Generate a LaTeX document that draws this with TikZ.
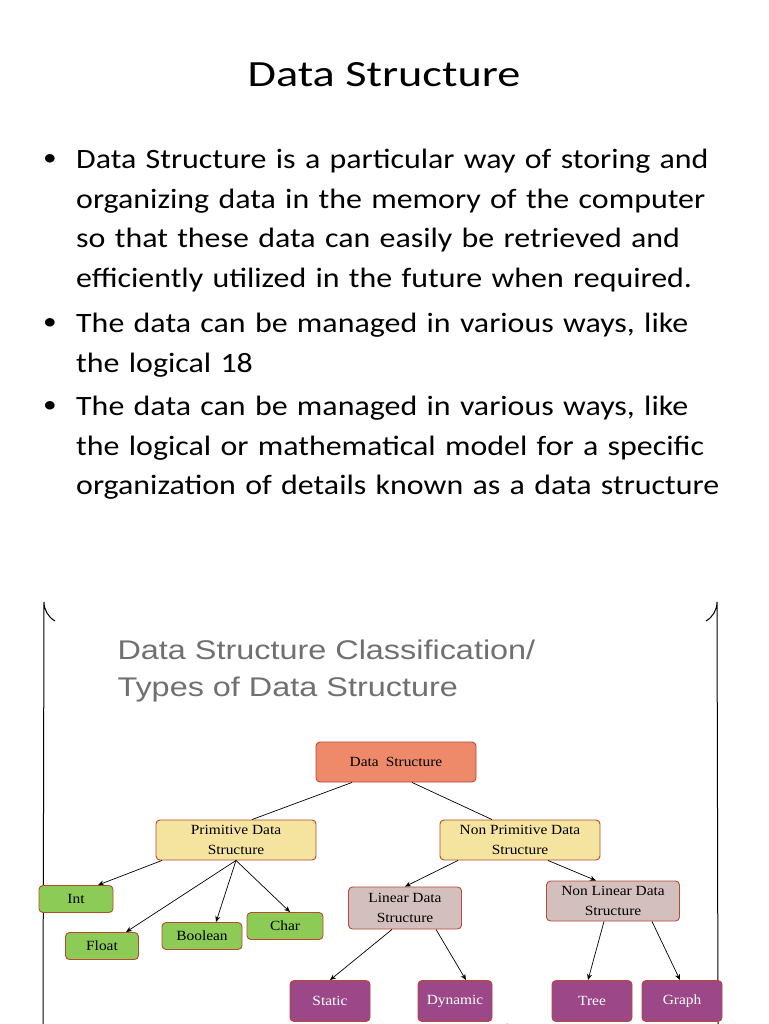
\documentclass[tikz,border=0pt]{standalone}
\usepackage{fontspec}
\setmainfont[FakeStretch=1.14]{Carlito}
\newfontfamily\boxfont[FakeStretch=1.1]{Liberation Serif}
\newfontfamily\grayfont[FakeStretch=1.2]{Liberation Sans}
\usetikzlibrary{arrows.meta}
\definecolor{dsfill}{HTML}{EE8A6A}
\definecolor{dsline}{HTML}{B84A30}
\definecolor{yel}{HTML}{F5E3A0}
\definecolor{grn}{HTML}{8CCB55}
\definecolor{pnk}{HTML}{D4BFBF}
\definecolor{pur}{HTML}{9C4888}
\definecolor{ttl}{HTML}{707070}
\tikzset{
  bx/.style={draw=dsline, line width=0.9pt, rounded corners=4pt, inner sep=0pt, align=center, font=\boxfont\fontsize{14}{20}\selectfont},
  conn/.style={line width=0.7pt},
  arr/.style={conn,-{Stealth[length=6pt,width=5pt]}},
  btext/.style={anchor=north west, align=left, text width=690pt, font=\fontsize{28}{39.5}\selectfont, inner sep=0pt}
}
\begin{document}
\begin{tikzpicture}[x=1pt,y=-1pt]
\useasboundingbox (0,0) rectangle (768,1024);
\fill[white] (0,0) rectangle (768,1024);
\node[font=\fontsize{37}{40}\selectfont\addfontfeature{FakeStretch=1.25}] (title) at (384,75) {Data Structure};
\foreach \y in {160,324,407} \node[font=\fontsize{24}{30}\selectfont] at (50,\y) {\textbullet};
\node[btext] (b1) at (76,149) {Data Structure is a particular way of storing and\\organizing data in the memory of the computer\\so that these data can easily be retrieved and\\efficiently utilized in the future when required.};
\node[btext] (b2) at (76,313) {The data can be managed in various ways, like\\the logical 18};
\node[btext] (b3) at (76,396) {The data can be managed in various ways, like\\the logical or mathematical model for a specific\\organization of details known as a data structure};
% frame
\draw[line width=1pt] (55,621) arc[start angle=120,end angle=180,radius=22] -- (43,1024);
\draw[line width=1pt] (706,621) arc[start angle=60,end angle=0,radius=22] -- (718,1024);
\node[anchor=west, text=ttl, font=\grayfont\fontsize{27}{30}\selectfont] (t1) at (114,650) {Data Structure Classification/};
\node[anchor=west, text=ttl, font=\grayfont\fontsize{27}{30}\selectfont] (t2) at (114,690) {Types of Data Structure};
% boxes
\node[bx, fill=dsfill, minimum width=160pt, minimum height=40pt] (ds) at (396,762) {Data\enspace Structure};
\node[bx, fill=yel, minimum width=160pt, minimum height=40pt] (pr) at (236,840) {Primitive Data\\Structure};
\node[bx, fill=yel, minimum width=160pt, minimum height=40pt] (np) at (520,840) {Non Primitive Data\\Structure};
\node[bx, fill=grn, minimum width=74pt, minimum height=27pt] (int) at (76,899) {Int};
\node[bx, fill=grn, minimum width=73pt, minimum height=27pt] (flt) at (102,946) {Float};
\node[bx, fill=grn, minimum width=80pt, minimum height=27pt] (bool) at (202,936) {Boolean};
\node[bx, fill=grn, minimum width=76pt, minimum height=27pt] (chr) at (285,926) {Char};
\node[bx, fill=pnk, minimum width=113pt, minimum height=42pt] (lin) at (405,908) {Linear Data\\Structure};
\node[bx, fill=pnk, minimum width=133pt, minimum height=40pt] (nl) at (613,901) {Non Linear Data\\Structure};
\node[bx, fill=pur, text=white, minimum width=80pt, minimum height=41pt] (st) at (330,1001) {Static};
\node[bx, fill=pur, text=white, minimum width=74pt, minimum height=41pt] (dy) at (455,1001) {Dynamic};
\node[bx, fill=pur, text=white, minimum width=80pt, minimum height=41pt] (tr) at (592,1001) {Tree};
\node[bx, fill=pur, text=white, minimum width=80pt, minimum height=41pt] (gr) at (682,1001) {Graph};
% connectors
\draw[conn] ([xshift=-44pt]ds.south) -- ([xshift=16pt]pr.north);
\draw[conn] ([xshift=16pt]ds.south) -- ([xshift=-28pt]np.north);
\draw[arr] ([xshift=-74pt]pr.south) -- ([xshift=22pt]int.north);
\draw[arr] (pr.south) -- ([xshift=24pt]flt.north);
\draw[arr] (pr.south) -- ([xshift=14pt]bool.north);
\draw[arr] (pr.south) -- ([xshift=5pt]chr.north);
\draw[arr] ([xshift=-62pt]np.south) -- (lin.north);
\draw[arr] ([xshift=28pt]np.south) -- ([xshift=-17pt]nl.north);
\draw[arr] ([xshift=-13pt]lin.south) -- (st.north);
\draw[arr] ([xshift=31pt]lin.south) -- ([xshift=11pt]dy.north);
\draw[arr] ([xshift=-9pt]nl.south) -- ([xshift=-4pt]tr.north);
\draw[arr] ([xshift=39pt]nl.south) -- ([xshift=-2pt]gr.north);
\coordinate (s1) at (323,1024); \coordinate (d1) at (447,1024); \coordinate (d2) at (452,1024); \coordinate (d3) at (508,1024);
\draw[conn] ([xshift=-7pt,yshift=-4pt]st.south) -- (s1);
\draw[conn] ([xshift=-8pt,yshift=-4pt]dy.south) -- (d1);
\draw[conn] ([xshift=-3pt,yshift=-4pt]dy.south) -- (d2);
\draw[conn] ([xshift=37pt,yshift=-6pt]dy.south) -- (d3);
\end{tikzpicture}
\end{document}
